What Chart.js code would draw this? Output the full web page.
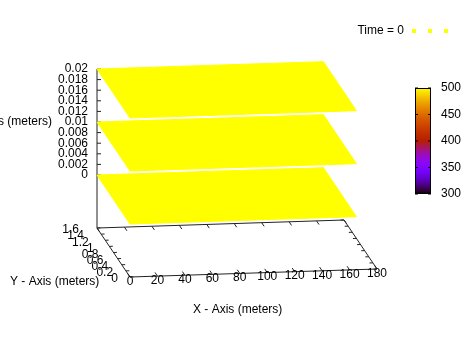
<!DOCTYPE html>
<html>
<head>
<meta charset="utf-8">
<script src="https://cdn.jsdelivr.net/npm/chart.js@4.4.0/dist/chart.umd.min.js"></script>
<style>
  html, body { margin: 0; padding: 0; background: #fff; }
  #wrap { width: 474px; height: 355px; }
</style>
</head>
<body>
<div id="wrap"><canvas id="chart" width="474" height="355"></canvas></div>
<script>
// plane heights (z, meters) and the value each one carries at Time = 0
const zLevels = [0, 0.01, 0.02];
const planeValues = [500, 500, 500];
// extent of each plane in x and y (meters)
const xExtent = [0, 165];
const yExtent = [0, 1.6];

// axis ticks
const xTicks = [0, 20, 40, 60, 80, 100, 120, 140, 160, 180];
const xTickLabels = ["0", "20", "40", "60", "80", "100", "120", "140", "160", "180"];
const yTicks = [0, 0.2, 0.4, 0.6, 0.8, 1, 1.2, 1.4, 1.6];
const yTickLabels = ["0", "0.2", "0.4", "0.6", "0.8", "1", "1.2", "1.4", "1.6"];
const zTicks = [0, 0.002, 0.004, 0.006, 0.008, 0.01, 0.012, 0.014, 0.016, 0.018, 0.02];
const zTickLabels = ["0", "0.002", "0.004", "0.006", "0.008", "0.01", "0.012", "0.014", "0.016", "0.018", "0.02"];
const cbTicks = [300, 350, 400, 450, 500];
const cbTickLabels = ["300", "350", "400", "450", "500"];

const xRange = [0, 180];
const yRange = [0, 1.6];
const zBase = -0.01; // base plane (ticslevel)
const cbRange = [300, 500];

const FONT = '12px "Liberation Sans", Arial, sans-serif';

// simple orthographic view: data -> screen units (the scales below map these to pixels)
function project(x, y, z) {
  const ox = 130, oy = 277;           // front-left corner of the base
  const ex = [247 / 180, -8 / 180];
  const ey = [-33 / 1.6, -49 / 1.6];
  const ez = 5300;
  return {
    x: ox + x * ex[0] + y * ey[0],
    y: oy + x * ex[1] + y * ey[1] - (z - zBase) * ez
  };
}

// gnuplot default palette (rgbformulae 7,5,15)
function palette(t) {
  t = Math.max(0, Math.min(1, t));
  const r = Math.sqrt(t);
  const g = t * t * t;
  const b = Math.max(0, Math.sin(2 * Math.PI * t));
  return `rgb(${Math.round(r * 255)},${Math.round(g * 255)},${Math.round(b * 255)})`;
}
function valueColor(v) {
  return palette((v - cbRange[0]) / (cbRange[1] - cbRange[0]));
}

const datasets = zLevels.map((z, i) => {
  const corners = [
    [xExtent[0], yExtent[0]], [xExtent[1], yExtent[0]],
    [xExtent[1], yExtent[1]], [xExtent[0], yExtent[1]],
    [xExtent[0], yExtent[0]]
  ];
  const col = valueColor(planeValues[i]);
  return {
    label: "z = " + z,
    data: corners.map(c => project(c[0], c[1], z)),
    showLine: true,
    fill: "shape",
    backgroundColor: col,
    borderColor: col,
    borderWidth: 1,
    pointRadius: 0,
    order: zLevels.length - i
  };
});

const axesPlugin = {
  id: "axes3d",
  beforeDatasetsDraw(chart) {
    const ctx = chart.ctx;
    const sx = chart.scales.x, sy = chart.scales.y;
    const px = p => ({ x: sx.getPixelForValue(p.x), y: sy.getPixelForValue(p.y) });
    const P = (x, y, z) => px(project(x, y, z));

    ctx.save();
    ctx.strokeStyle = "#222";
    ctx.lineWidth = 1;
    ctx.fillStyle = "#000";
    ctx.font = FONT;

    const line = (a, b) => { ctx.beginPath(); ctx.moveTo(a.x, a.y); ctx.lineTo(b.x, b.y); ctx.stroke(); };

    // base frame
    const b00 = P(xRange[0], yRange[0], zBase), b10 = P(xRange[1], yRange[0], zBase);
    const b11 = P(xRange[1], yRange[1], zBase), b01 = P(xRange[0], yRange[1], zBase);
    line(b00, b10); line(b10, b11); line(b11, b01); line(b01, b00);

    // z axis at back-left corner
    const zTop = P(xRange[0], yRange[1], zTicks[zTicks.length - 1]);
    line(b01, zTop);
    ctx.textAlign = "right";
    ctx.textBaseline = "middle";
    zTicks.forEach((z, i) => {
      const p = P(xRange[0], yRange[1], z);
      line(p, { x: p.x + 4, y: p.y });
      ctx.fillText(zTickLabels[i], p.x - 9, p.y);
    });

    // x ticks along front edge, mirrored on back edge
    ctx.textAlign = "center";
    xTicks.forEach((x, i) => {
      const f = P(x, yRange[0], zBase), fi = P(x, 0.12, zBase);
      const k = P(x, yRange[1], zBase), ki = P(x, yRange[1] - 0.12, zBase);
      line(f, fi); line(k, ki);
      ctx.fillText(xTickLabels[i], f.x, f.y + 4.5);
    });

    // y ticks along left edge, mirrored on right edge
    ctx.textAlign = "right";
    yTicks.forEach((y, i) => {
      const l = P(xRange[0], y, zBase), li = P(2.5, y, zBase);
      const r = P(xRange[1], y, zBase), ri = P(xRange[1] - 2.5, y, zBase);
      line(l, li); line(r, ri);
      const off = 12 + 6 * y / yRange[1];
      ctx.fillText(yTickLabels[i], l.x - off, l.y + 2);
    });

    // axis titles
    ctx.textAlign = "left";
    ctx.fillText("Y - Axis (meters)", 10, 282);
    ctx.fillText("X - Axis (meters)", 193, 310);
    ctx.textAlign = "right";
    ctx.fillText("Z - Axis (meters)", 52, 122);
    ctx.restore();
  },
  afterDatasetsDraw(chart) {
    const ctx = chart.ctx;
    ctx.save();
    ctx.font = FONT;
    ctx.fillStyle = "#000";

    // key
    ctx.textAlign = "right";
    ctx.textBaseline = "middle";
    ctx.fillText("Time = 0", 404, 31);
    ctx.fillStyle = valueColor(planeValues[0]);
    [412, 428, 444].forEach(x => ctx.fillRect(x, 29, 4, 4));

    // colour box
    const cx0 = 415, cx1 = 431, cy0 = 88, cy1 = 194;
    const grad = ctx.createLinearGradient(0, cy1, 0, cy0);
    for (let i = 0; i <= 40; i++) grad.addColorStop(i / 40, palette(i / 40));
    ctx.fillStyle = grad;
    ctx.fillRect(cx0, cy0, cx1 - cx0, cy1 - cy0);
    ctx.strokeStyle = "#000";
    ctx.lineWidth = 1;
    ctx.strokeRect(cx0 + 0.5, cy0 + 0.5, cx1 - cx0 - 1, cy1 - cy0 - 1);
    ctx.fillStyle = "#000";
    ctx.textAlign = "left";
    cbTicks.forEach((v, i) => {
      const y = cy1 - (v - cbRange[0]) / (cbRange[1] - cbRange[0]) * (cy1 - cy0);
      ctx.beginPath();
      ctx.moveTo(cx0, y); ctx.lineTo(cx0 + 3, y);
      ctx.moveTo(cx1, y); ctx.lineTo(cx1 - 3, y);
      ctx.stroke();
      ctx.fillText(cbTickLabels[i], 441, y);
    });
    ctx.restore();
  }
};

new Chart(document.getElementById("chart").getContext("2d"), {
  type: "scatter",
  data: { datasets },
  options: {
    responsive: false,
    animation: false,
    layout: { padding: 0 },
    plugins: { legend: { display: false }, tooltip: { enabled: false } },
    scales: {
      x: { type: "linear", min: 0, max: 474, display: false },
      y: { type: "linear", min: 0, max: 355, reverse: true, display: false }
    }
  },
  plugins: [axesPlugin]
});
</script>
</body>
</html>
